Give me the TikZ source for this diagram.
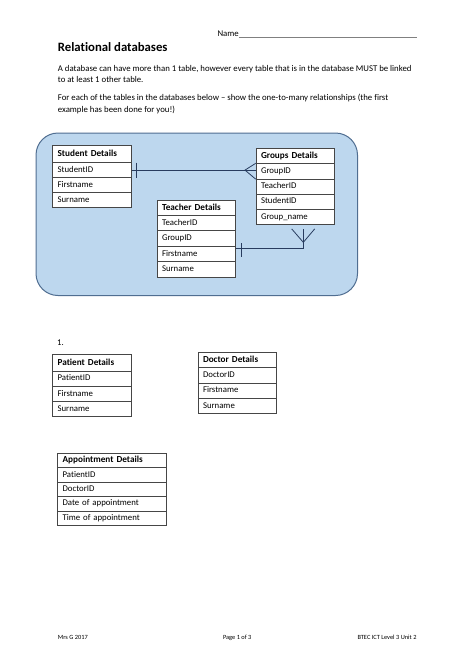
\documentclass[tikz,border=0pt]{standalone}
\usepackage{fontspec}
\setmainfont{Carlito}[Ligatures=NoCommon]
\usetikzlibrary{calc}
\definecolor{panelfill}{RGB}{189,215,238}
\definecolor{paneldraw}{RGB}{80,110,145}
\definecolor{linkcol}{RGB}{40,60,95}
\definecolor{tblline}{RGB}{70,70,70}
\newcommand\tblfont{\fontsize{8.77}{10}\selectfont}
\newcommand\tblheadfont{\fontsize{9.2}{10}\selectfont\bfseries}
\newcommand\dbtable[8]{%
  \pgfmathsetmacro\dbtw{#4-10}%
  \node[tblcell, font=\tblheadfont, text width=\dbtw pt, minimum height=#5pt] (#1-0) at (#2,#3) {#7};
  \foreach \t [count=\i] in {#8}{%
    \node[tblcell, text width=\dbtw pt, minimum height=#6pt] (#1-\i) at (#2,{#3+#5+(\i-1)*#6}) {\t};
  }%
}
\tikzset{
  tblcell/.style={draw=tblline, line width=0.6pt, fill=white, anchor=north west,
    inner xsep=5pt, inner ysep=0pt, align=left, text height=6.2pt, text depth=1.8pt, font=\tblfont},
  body/.style={inner sep=0pt, anchor=base west, font=\fontsize{8.77}{10}\selectfont},
  foot/.style={inner sep=0pt, font=\fontsize{6.37}{7}\selectfont},
  link/.style={draw=linkcol, line width=0.8pt},
}
\begin{document}
\begin{tikzpicture}[x=1pt,y=-1pt]
\useasboundingbox (0,0) rectangle (474,670);
\fill[white] (0,0) rectangle (474,670);
% header
\node[body] (name) at (217.3,36) {Name};
\coordinate (nameend) at (416.7,37.7);
\draw[gray, line width=0.8pt] (name.base east |- nameend) -- (nameend);
\node[inner sep=0pt, anchor=base west, font=\fontsize{12.75}{14}\selectfont\bfseries] (title) at (57.7,51.7) {Relational databases};
\node[body] (p1a) at (57.7,71) {A database can have more than 1 table, however every table that is in the database MUST be linked};
\node[body] (p1b) at (57.7,82.8) {to at least 1 other table.};
\node[body] (p2a) at (57.7,100.2) {For each of the tables in the databases below -- show the one-to-many relationships (the first};
\node[body] (p2b) at (57.7,112) {example has been done for you!)};
% example panel
\draw[fill=panelfill, draw=paneldraw, line width=1pt, rounded corners=22pt] (36,133) rectangle (357.5,295.5);
\dbtable{stu}{52.3}{145}{78.7}{17.3}{15}{Student Details}{StudentID,Firstname,Surname}
\dbtable{grp}{255.7}{147.7}{78.6}{15.6}{15.25}{Groups Details}{GroupID,TeacherID,StudentID,Group\_name}
\dbtable{tea}{156.7}{200}{78.3}{15}{15.4}{Teacher Details}{TeacherID,GroupID,Firstname,Surname}
% relationship student - groups
\coordinate (cfA) at ($(stu-1.east -| grp-1.west)+(-10.7,0)$);
\draw[link] (stu-1.east) -- (stu-1.east -| grp-1.west);
\draw[link] (grp-1.north west) -- (cfA) -- (grp-1.south west);
\draw[link] ($(stu-1.east)+(5,-7.5)$) -- ($(stu-1.east)+(5,7.5)$);
% relationship teacher - groups
\coordinate (t1) at ($(tea-3.north east)+(0,2.7)$);
\coordinate (cftop) at ($(grp-4.south west)+(47.6,4)$);
\draw[link] (t1) -| (cftop);
\draw[link] ($(cftop)+(-11.6,0)$) -- ($(cftop)+(0,13.4)$) -- ($(cftop)+(11.4,0)$);
\draw[link] ($(t1)+(6,-5.5)$) -- ($(t1)+(6,8)$);
% exercise 1
\node[body] (one) at (57,345.5) {1.};
\dbtable{pat}{52.3}{354.3}{78.7}{16.4}{15.2}{Patient Details}{PatientID,Firstname,Surname}
\dbtable{doc}{197.7}{351.7}{78.3}{15.6}{15.3}{Doctor Details}{DoctorID,Firstname,Surname}
\dbtable{app}{57.3}{452.7}{108.7}{14.6}{14.4}{Appointment Details}{PatientID,DoctorID,Date of appointment,Time of appointment}
% footer
\node[foot, anchor=base west] (f1) at (57.7,639.5) {Mrs G 2017};
\node[foot, anchor=base] (f2) at (237.2,639.5) {Page 1 of 3};
\node[foot, anchor=base east] (f3) at (416.7,639.5) {BTEC ICT Level 3 Unit 2};
\end{tikzpicture}
\end{document}
